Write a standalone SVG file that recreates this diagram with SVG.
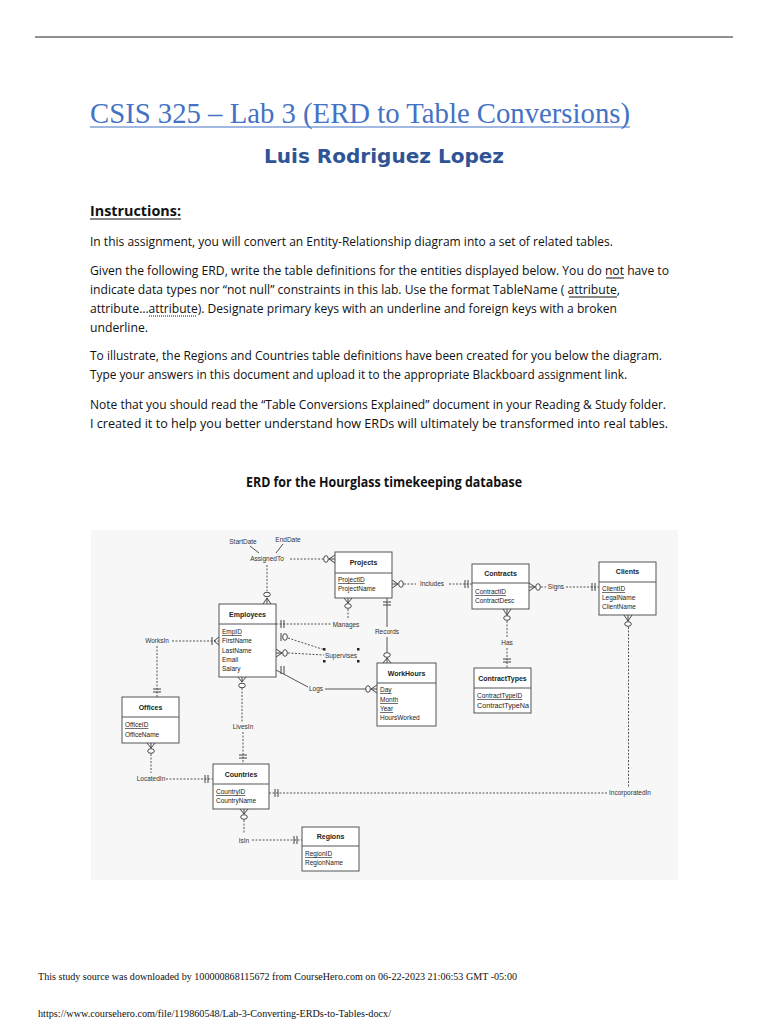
<svg xmlns="http://www.w3.org/2000/svg" width="768" height="1024" viewBox="0 0 768 1024">
<style>
.body{font-family:"Open Sans","DejaVu Sans",sans-serif;font-size:12.5px;fill:#111}
.ent rect{fill:#fff;stroke:#555;stroke-width:1}
.ent line{stroke:#555;stroke-width:1}
.eh{font-family:"Liberation Sans",Arial,sans-serif;font-size:7px;font-weight:bold;fill:#222;text-anchor:middle}
.ea{font-family:"Liberation Sans",Arial,sans-serif;font-size:6.5px;fill:#222}
.pk{text-decoration:underline}
.lbl{font-family:"Liberation Sans",Arial,sans-serif;font-size:6.5px;fill:#333;text-anchor:middle}
.dot{stroke:#555;stroke-width:1;stroke-dasharray:2 1.5;fill:none}
.sol{stroke:#555;stroke-width:1;fill:none}
.sym{stroke:#444;stroke-width:1;fill:none}
.circ{stroke:#444;stroke-width:1;fill:#fff}
</style>
<rect width="768" height="1024" fill="#fff"/>
<line x1="35" y1="37" x2="733" y2="37" stroke="#222" stroke-width="1"/>

<text x="90" y="123" font-family="Liberation Serif,serif" font-size="30" fill="#4472C4" textLength="540" lengthAdjust="spacingAndGlyphs">CSIS 325 – Lab 3 (ERD to Table Conversions)</text>
<line x1="90" y1="127" x2="630" y2="127" stroke="#4472C4" stroke-width="1.2"/>
<text x="384" y="163" text-anchor="middle" font-family="DejaVu Sans,sans-serif" font-size="19" font-weight="bold" fill="#2F5496" textLength="240" lengthAdjust="spacingAndGlyphs">Luis Rodriguez Lopez</text>

<text x="90" y="216" font-family="Open Sans,sans-serif" font-size="15" font-weight="bold" fill="#111" textLength="91" lengthAdjust="spacingAndGlyphs">Instructions:</text>
<line x1="90" y1="219" x2="181" y2="219" stroke="#111" stroke-width="1"/>

<text class="body" x="90" y="246" textLength="523" lengthAdjust="spacingAndGlyphs">In this assignment, you will convert an Entity-Relationship diagram into a set of related tables.</text>
<text class="body" x="90" y="275" textLength="579" lengthAdjust="spacingAndGlyphs">Given the following ERD, write the table definitions for the entities displayed below.  You do not have to</text>
<line x1="606" y1="278" x2="624" y2="278" stroke="#111" stroke-width="1"/>
<text class="body" x="90" y="294" textLength="530" lengthAdjust="spacingAndGlyphs">indicate data types nor “not null” constraints in this lab.  Use the format TableName ( attribute,</text>
<line x1="569" y1="297" x2="617" y2="297" stroke="#111" stroke-width="1"/>
<text class="body" x="90" y="313" textLength="527" lengthAdjust="spacingAndGlyphs">attribute…attribute).  Designate primary keys with an underline and foreign keys with a broken</text>
<line x1="149" y1="316" x2="196" y2="316" stroke="#111" stroke-width="1" stroke-dasharray="1 1"/>
<text class="body" x="90" y="332" textLength="58" lengthAdjust="spacingAndGlyphs">underline.</text>
<text class="body" x="90" y="360" textLength="572" lengthAdjust="spacingAndGlyphs">To illustrate, the Regions and Countries table definitions have been created for you below the diagram.</text>
<text class="body" x="90" y="379" textLength="537" lengthAdjust="spacingAndGlyphs">Type your answers in this document and upload it to the appropriate Blackboard assignment link.</text>
<text class="body" x="90" y="409" textLength="576" lengthAdjust="spacingAndGlyphs">Note that you should read the “Table Conversions Explained” document in your Reading &amp; Study folder.</text>
<text class="body" x="90" y="428" textLength="578" lengthAdjust="spacingAndGlyphs">I created it to help you better understand how ERDs will ultimately be transformed into real tables.</text>

<text x="384" y="487" text-anchor="middle" font-family="Open Sans,sans-serif" font-size="13.5" font-weight="bold" fill="#111" textLength="276" lengthAdjust="spacingAndGlyphs">ERD for the Hourglass timekeeping database</text>

<rect x="91" y="530" width="587" height="350" fill="#f7f7f7"/>

<g id="connectors">
  <!-- AssignedTo -->
  <line class="sol" x1="250" y1="546" x2="259" y2="553"/>
  <line class="sol" x1="283" y1="544" x2="276" y2="553"/>
  <line class="dot" x1="290" y1="559" x2="323" y2="559"/>
  <path class="sym" d="M329,559 L335,555 M329,559 L335,563 M329,559 H335"/>
  <ellipse class="circ" cx="326" cy="559" rx="2.3" ry="3.3"/>
  <line class="dot" x1="267" y1="565" x2="267" y2="591"/>
  <path class="sym" d="M267,598 L263,604 M267,598 L271,604 M267,598 V604"/>
  <ellipse class="circ" cx="267" cy="594.5" rx="3.3" ry="2.3"/>
  <!-- Includes -->
  <path class="sym" d="M398,584 L392,580 M398,584 L392,588 M398,584 H392"/>
  <ellipse class="circ" cx="401" cy="584" rx="2.3" ry="3.3"/>
  <line class="dot" x1="404" y1="584" x2="416" y2="584"/>
  <line class="dot" x1="449" y1="584" x2="472" y2="584"/>
  <path class="sym" d="M465,580 V588 M468,580 V588"/>
  <!-- Signs -->
  <path class="sym" d="M535,587 L529,583 M535,587 L529,591 M535,587 H529"/>
  <ellipse class="circ" cx="538" cy="587" rx="2.3" ry="3.3"/>
  <line class="dot" x1="541" y1="587" x2="546" y2="587"/>
  <line class="dot" x1="566" y1="587" x2="599" y2="587"/>
  <path class="sym" d="M592,583 V591 M595,583 V591"/>
  <!-- Has -->
  <path class="sym" d="M507,615 L503,609 M507,615 L511,609 M507,615 V609"/>
  <ellipse class="circ" cx="507" cy="618" rx="3.3" ry="2.3"/>
  <line class="dot" x1="507" y1="621" x2="507" y2="637"/>
  <line class="dot" x1="507" y1="648" x2="507" y2="668"/>
  <path class="sym" d="M503,659 H511 M503,662 H511"/>
  <!-- IncorporatedIn -->
  <path class="sym" d="M628,621 L624,615 M628,621 L632,615 M628,621 V615"/>
  <ellipse class="circ" cx="628" cy="624" rx="3.3" ry="2.3"/>
  <line class="dot" x1="628.5" y1="627" x2="628.5" y2="788"/>
  <line class="dot" x1="269" y1="793" x2="607" y2="793"/>
  <path class="sym" d="M275,789 V797 M278,789 V797"/>
  <!-- Manages -->
  <path class="sym" d="M281,620 V628 M284,620 V628"/>
  <line class="dot" x1="276" y1="624" x2="331" y2="624"/>
  <line class="dot" x1="348" y1="609" x2="348" y2="619"/>
  <path class="sym" d="M348,603 L344,598 M348,603 L352,598 M348,603 V598"/>
  <ellipse class="circ" cx="348" cy="606" rx="3.3" ry="2.3"/>
  <!-- Records -->
  <path class="sym" d="M383,602 H391 M383,605 H391"/>
  <line class="sol" x1="387" y1="598" x2="387" y2="627"/>
  <line class="sol" x1="387" y1="637" x2="387" y2="652"/>
  <ellipse class="circ" cx="387" cy="655" rx="3.3" ry="2.3"/>
  <path class="sym" d="M387,658 L383,663 M387,658 L391,663 M387,658 V663"/>
  <!-- Supervises -->
  <path class="sym" d="M281,633 V641"/>
  <ellipse class="circ" cx="285" cy="637" rx="2.3" ry="3.3"/>
  <line class="dot" x1="288" y1="638" x2="325" y2="650"/>
  <path class="sym" d="M282,653 L276,649 M282,653 L276,657 M282,653 H276"/>
  <ellipse class="circ" cx="285" cy="653" rx="2.3" ry="3.3"/>
  <line class="dot" x1="288" y1="653" x2="324" y2="655"/>
  <g fill="#222">
    <rect x="323" y="648" width="2.5" height="2.5"/>
    <rect x="357" y="648" width="2.5" height="2.5"/>
    <rect x="323" y="660" width="2.5" height="2.5"/>
    <rect x="357" y="660" width="2.5" height="2.5"/>
  </g>
  <!-- Logs -->
  <path class="sym" d="M281,666 V674 M284,666 V674"/>
  <line class="sol" x1="276" y1="670" x2="308" y2="687"/>
  <line class="sol" x1="325" y1="689" x2="366" y2="689"/>
  <ellipse class="circ" cx="368" cy="689" rx="2.3" ry="3.3"/>
  <path class="sym" d="M371,689 L377,685 M371,689 L377,693 M371,689 H377"/>
  <!-- WorksIn -->
  <line class="dot" x1="172" y1="641" x2="219" y2="641"/>
  <path class="sym" d="M212,637 V645 M214,641 L219,637 M214,641 L219,645"/>
  <line class="dot" x1="157" y1="646" x2="157" y2="697"/>
  <path class="sym" d="M153,689 H161 M153,692 H161"/>
  <!-- LivesIn -->
  <path class="sym" d="M242,682 L238,677 M242,682 L246,677 M242,682 V677"/>
  <ellipse class="circ" cx="242" cy="685.5" rx="3.3" ry="2.3"/>
  <line class="dot" x1="242" y1="688" x2="242" y2="722"/>
  <line class="dot" x1="243" y1="732" x2="243" y2="764"/>
  <path class="sym" d="M239,755 H247 M239,758 H247"/>
  <!-- LocatedIn -->
  <path class="sym" d="M151,748 L147,743 M151,748 L155,743 M151,748 V743"/>
  <ellipse class="circ" cx="151" cy="751" rx="3.3" ry="2.3"/>
  <line class="dot" x1="151" y1="754" x2="151" y2="773"/>
  <line class="dot" x1="166" y1="779" x2="213" y2="779"/>
  <path class="sym" d="M205,775 V783 M208,775 V783"/>
  <!-- IsIn -->
  <path class="sym" d="M244,814 L240,809 M244,814 L248,809 M244,814 V809"/>
  <ellipse class="circ" cx="244" cy="817" rx="3.3" ry="2.3"/>
  <line class="dot" x1="244" y1="820" x2="244" y2="834"/>
  <line class="dot" x1="252" y1="840" x2="302" y2="840"/>
  <path class="sym" d="M294,836 V844 M297,836 V844"/>

  <text class="lbl" x="243" y="544">StartDate</text>
  <text class="lbl" x="288" y="542">EndDate</text>
  <text class="lbl" x="267" y="561">AssignedTo</text>
  <text class="lbl" x="432" y="586">Includes</text>
  <text class="lbl" x="556" y="589">Signs</text>
  <text class="lbl" x="507" y="645">Has</text>
  <text class="lbl" x="630" y="795">IncorporatedIn</text>
  <text class="lbl" x="346" y="627">Manages</text>
  <text class="lbl" x="387" y="634">Records</text>
  <text class="lbl" x="341" y="658">Supervises</text>
  <text class="lbl" x="316" y="691">Logs</text>
  <text class="lbl" x="157" y="643">WorksIn</text>
  <text class="lbl" x="243" y="729">LivesIn</text>
  <text class="lbl" x="151" y="781">LocatedIn</text>
  <text class="lbl" x="244" y="843">IsIn</text>
</g>

<g id="projects" class="ent">
  <rect x="335" y="552" width="57" height="46"/>
  <line x1="335" y1="573" x2="392" y2="573"/>
  <text class="eh" x="363.5" y="565">Projects</text>
  <text class="ea pk" x="338" y="582">ProjectID</text>
  <text class="ea" x="338" y="591">ProjectName</text>
</g>
<g id="contracts" class="ent">
  <rect x="472" y="564" width="57" height="45"/>
  <line x1="472" y1="583" x2="529" y2="583"/>
  <text class="eh" x="500.5" y="576">Contracts</text>
  <text class="ea pk" x="475" y="594">ContractID</text>
  <text class="ea" x="475" y="603">ContractDesc</text>
</g>
<g id="clients" class="ent">
  <rect x="599" y="562" width="57" height="53"/>
  <line x1="599" y1="582" x2="656" y2="582"/>
  <text class="eh" x="627.5" y="574">Clients</text>
  <text class="ea pk" x="602" y="591">ClientID</text>
  <text class="ea" x="602" y="600">LegalName</text>
  <text class="ea" x="602" y="609">ClientName</text>
</g>
<g id="employees" class="ent">
  <rect x="219" y="604" width="57" height="73"/>
  <line x1="219" y1="624" x2="276" y2="624"/>
  <text class="eh" x="247.5" y="617">Employees</text>
  <text class="ea pk" x="222" y="634">EmpID</text>
  <text class="ea" x="222" y="643">FirstName</text>
  <text class="ea" x="222" y="653">LastName</text>
  <text class="ea" x="222" y="662">Email</text>
  <text class="ea" x="222" y="671">Salary</text>
</g>
<g id="offices" class="ent">
  <rect x="122" y="697" width="57" height="46"/>
  <line x1="122" y1="717" x2="179" y2="717"/>
  <text class="eh" x="150.5" y="710">Offices</text>
  <text class="ea pk" x="125" y="727">OfficeID</text>
  <text class="ea" x="125" y="737">OfficeName</text>
</g>
<g id="workhours" class="ent">
  <rect x="377" y="663" width="59" height="63"/>
  <line x1="377" y1="683" x2="436" y2="683"/>
  <text class="eh" x="406.5" y="676">WorkHours</text>
  <text class="ea pk" x="380" y="692">Day</text>
  <text class="ea pk" x="380" y="702">Month</text>
  <text class="ea pk" x="380" y="711">Year</text>
  <text class="ea" x="380" y="720">HoursWorked</text>
</g>
<g id="contracttypes" class="ent">
  <rect x="474" y="668" width="57" height="45"/>
  <line x1="474" y1="688" x2="531" y2="688"/>
  <text class="eh" x="502.5" y="681">ContractTypes</text>
  <text class="ea pk" x="477" y="698">ContractTypeID</text>
  <text class="ea" x="477" y="708" textLength="52" lengthAdjust="spacingAndGlyphs">ContractTypeNa</text>
</g>
<g id="countries" class="ent">
  <rect x="213" y="764" width="56" height="45"/>
  <line x1="213" y1="784" x2="269" y2="784"/>
  <text class="eh" x="241" y="777">Countries</text>
  <text class="ea pk" x="216" y="794">CountryID</text>
  <text class="ea" x="216" y="803">CountryName</text>
</g>
<g id="regions" class="ent">
  <rect x="302" y="827" width="57" height="44"/>
  <line x1="302" y1="846" x2="359" y2="846"/>
  <text class="eh" x="330.5" y="839">Regions</text>
  <text class="ea pk" x="305" y="856">RegionID</text>
  <text class="ea" x="305" y="865">RegionName</text>
</g>

<text x="38" y="980" font-family="Liberation Serif,serif" font-size="11" fill="#111" textLength="479" lengthAdjust="spacingAndGlyphs">This study source was downloaded by 100000868115672 from CourseHero.com on 06-22-2023 21:06:53 GMT -05:00</text>
<text x="38" y="1017" font-family="Liberation Serif,serif" font-size="11" fill="#111" textLength="353" lengthAdjust="spacingAndGlyphs">https://www.coursehero.com/file/119860548/Lab-3-Converting-ERDs-to-Tables-docx/</text>
</svg>
